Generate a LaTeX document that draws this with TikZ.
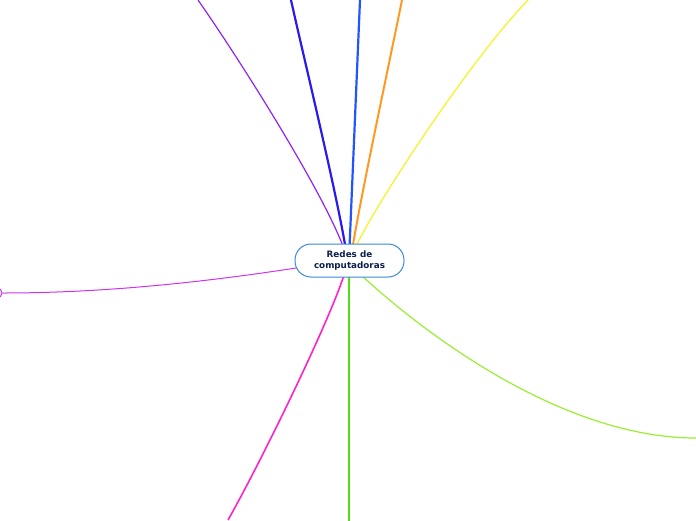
\documentclass[tikz,border=0pt]{standalone}
\usepackage{fontspec}
\setmainfont{DejaVu Sans}
\usetikzlibrary{calc,backgrounds}
\definecolor{topicborder}{HTML}{3A8AD6}
\definecolor{topictext}{HTML}{0D1F4D}
\definecolor{cpurple}{HTML}{9322F0}
\definecolor{cblueA}{HTML}{2A1AEE}
\definecolor{cblueB}{HTML}{2255FF}
\definecolor{corange}{HTML}{FF9922}
\definecolor{cyellow}{HTML}{F4F420}
\definecolor{clgreen}{HTML}{99EE33}
\definecolor{branchgreen}{HTML}{55DD11}
\definecolor{cmagenta}{HTML}{FF22CC}
\definecolor{cpink}{HTML}{CC33EE}
\tikzset{
  topic/.style={draw=topicborder, line width=1pt, fill=white, rounded corners=16pt,
    minimum width=109pt, minimum height=33pt, inner sep=2pt, align=center,
    text=topictext, font=\fontsize{8.8}{10.5}\selectfont\bfseries},
  thinbranch/.style={line width=1.2pt},
  thickbranch/.style={line width=2.2pt},
  midbranch/.style={line width=1.6pt},
  endring/.style={circle, draw=cpink, line width=1pt, fill=white, minimum size=10pt, inner sep=0pt}
}
\begin{document}
\begin{tikzpicture}[x=1pt,y=-1pt]
\useasboundingbox (0,0) rectangle (696,520);
\clip (0,0) rectangle (696,520);
\node[topic] (c) at (349.5,260.5) {Redes de\\computadoras};
\node[endring] (ring) at (-3,293) {};
\coordinate (ePurple) at (198,0);
\coordinate (eBlueA) at (291,0);
\coordinate (eBlueB) at (360,0);
\coordinate (eOrange) at (402,0);
\coordinate (eYellow) at (528,0);
\coordinate (eLGreen) at (696,438);
\coordinate (eGreen) at (349.2,521);
\coordinate (eMagenta) at (228,520);
\begin{scope}[on background layer]
\draw[thinbranch, cpurple] ($(c.north)+(-6,4)$) .. controls (322,190) and (240,60) .. (ePurple);
\draw[thickbranch, cblueA] ($(c.north)+(-4,4)$) .. controls (336,190) and (302,50) .. (eBlueA);
\draw[thickbranch, cblueB] ($(c.north)+(0,4)$) -- (eBlueB);
\draw[thickbranch, corange, line width=2pt] ($(c.north)+(3,4)$) .. controls (362,190) and (392,50) .. (eOrange);
\draw[thinbranch, cyellow] ($(c.north)+(6,4)$) .. controls (375,205) and (470,60) .. (eYellow);
\draw[thinbranch, clgreen] ($(c.south)+(10,-4)$) .. controls (420,330) and (560,438) .. (eLGreen);
\draw[draw=branchgreen, line width=1.8pt] ($(c.south)+(-0.3,-4)$) -- (eGreen);
\draw[midbranch, cmagenta] ($(c.south)+(-5,-4)$) .. controls (330,320) and (262,460) .. (eMagenta);
\draw[line width=1pt, cpink] ($(c.west)+(8,6.5)$) .. controls (200,283) and (100,293) .. (ring.east);
\end{scope}
\end{tikzpicture}
\end{document}
